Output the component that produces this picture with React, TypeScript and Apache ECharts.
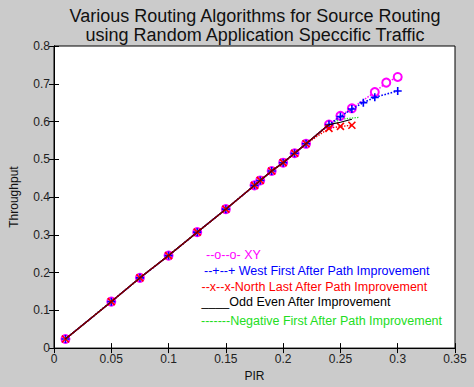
import React, { useEffect, useRef } from "react";
import * as echarts from "echarts";

const sharedX = [0.01, 0.05, 0.075, 0.1, 0.125, 0.15, 0.175, 0.18, 0.19, 0.2, 0.21, 0.22, 0.24];
const sharedY = [0.024, 0.123, 0.186, 0.245, 0.307, 0.368, 0.431, 0.444, 0.469, 0.491, 0.516, 0.541, 0.592];

const xyX = [0.25, 0.26, 0.28, 0.29, 0.3];
const xyY = [0.615, 0.635, 0.678, 0.703, 0.718];

const wfX = [0.25, 0.26, 0.27, 0.28, 0.3];
const wfY = [0.613, 0.633, 0.65, 0.664, 0.681];

const nlX = [0.25, 0.26];
const nlY = [0.587, 0.59];
const nlLastShared = 0.582;

const oeX = [0.25, 0.26];
const oeY = [0.598, 0.606];

const nfX = [0.25, 0.266];
const nfY = [0.606, 0.611];

const xTicks = [0, 0.05, 0.1, 0.15, 0.2, 0.25, 0.3, 0.35];
const yTicks = [0, 0.1, 0.2, 0.3, 0.4, 0.5, 0.6, 0.7, 0.8];

const legendLines = [
  { text: "--o--o- XY", color: "#ff00ff" },
  { text: "--+--+ West First After Path Improvement", color: "#0000ff" },
  { text: "--x--x-North Last After Path Improvement", color: "#ff0000" },
  { text: "____Odd Even After Improvement", color: "#000000" },
  { text: "-------Negative First After Path Improvement", color: "#22dd22" },
];

const PLUS = "path://M5,0 L5,10 M0,5 L10,5";
const CROSS = "path://M0,0 L10,10 M10,0 L0,10";

function pairs(xs: number[], ys: number[]) {
  return xs.map((x, i) => [x, ys[i]]);
}

export default function App() {
  const ref = useRef<HTMLDivElement>(null);
  useEffect(() => {
    if (!ref.current) return;
    const chart = echarts.init(ref.current, null, { renderer: "svg" });
    const font = "Liberation Sans, Arial, sans-serif";
    const shared = pairs(sharedX, sharedY);
    const nlShared = shared.map((p, i) => (i === shared.length - 1 ? [p[0], nlLastShared] : p));
    const legendY = [255, 271, 287, 302, 321];
    const legendX = [206, 204, 201.5, 201.5, 201];
    const axisCommon = {
      type: "value" as const,
      axisLine: { show: true, lineStyle: { color: "#000", width: 1 } },
      axisTick: { show: true, inside: true, length: 5, lineStyle: { color: "#000" } },
      splitLine: { show: false },
    };
    chart.setOption({
      animation: false,
      backgroundColor: "#cbcbcb",
      textStyle: { fontFamily: font },
      title: {
        text: "Various Routing Algorithms for Source Routing\nusing Random Application Speccific Traffic",
        left: 250,
        top: 2,
        textAlign: "center",
        textStyle: { fontSize: 18, fontWeight: "normal", lineHeight: 18.5, color: "#111", fontFamily: font },
      },
      grid: {
        left: 47,
        right: 19,
        top: 46,
        bottom: 36,
        show: true,
        backgroundColor: "#ffffff",
        borderColor: "#000",
        borderWidth: 1,
      },
      xAxis: [
        {
          ...axisCommon,
          position: "bottom",
          min: 0,
          max: 0.35,
          interval: 0.05,
          name: "PIR",
          nameLocation: "middle",
          nameGap: 21,
          nameTextStyle: { fontSize: 12, color: "#111", verticalAlign: "top", fontFamily: font },
          axisLabel: {
            fontSize: 12,
            color: "#222",
            margin: 5,
            fontFamily: font,
            formatter: (v: number) => {
              const t = xTicks.find((k) => Math.abs(k - v) < 1e-9);
              return t === undefined ? "" : String(t);
            },
          },
        },
        {
          ...axisCommon,
          position: "top",
          min: 0,
          max: 0.35,
          interval: 0.05,
          axisLabel: { show: false },
        },
      ],
      yAxis: [
        {
          ...axisCommon,
          position: "left",
          min: 0,
          max: 0.8,
          interval: 0.1,
          name: "Throughput",
          nameLocation: "middle",
          nameGap: 34,
          nameTextStyle: { fontSize: 12, color: "#111", fontFamily: font },
          axisLabel: {
            fontSize: 12,
            color: "#222",
            margin: 4,
            fontFamily: font,
            formatter: (v: number) => {
              const t = yTicks.find((k) => Math.abs(k - v) < 1e-9);
              return t === undefined ? "" : String(t);
            },
          },
        },
        {
          ...axisCommon,
          position: "right",
          min: 0,
          max: 0.8,
          interval: 0.1,
          axisLabel: { show: false },
        },
      ],
      series: [
        {
          name: "XY",
          type: "line",
          data: [...shared, ...pairs(xyX, xyY)],
          symbol: "emptyCircle",
          symbolSize: 8,
          showAllSymbol: true,
          lineStyle: { color: "#ff00ff", width: 1.5, type: "dotted" },
          itemStyle: { color: "#ff00ff", borderColor: "#ff00ff", borderWidth: 1.8 },
          z: 2,
        },
        {
          name: "West First After Path Improvement",
          type: "line",
          data: [...shared, ...pairs(wfX, wfY)],
          symbol: PLUS,
          symbolSize: 8,
          showAllSymbol: true,
          lineStyle: { color: "#0000ff", width: 1.6, type: "dotted" },
          itemStyle: { color: "transparent", borderColor: "#0000ff", borderWidth: 1.6 },
          z: 3,
        },
        {
          name: "North Last After Path Improvement",
          type: "line",
          data: [...nlShared, ...pairs(nlX, nlY)],
          symbol: CROSS,
          symbolSize: 7,
          showAllSymbol: true,
          lineStyle: { color: "#ff0000", width: 1.4, type: "dotted" },
          itemStyle: { color: "transparent", borderColor: "#ff0000", borderWidth: 1.6 },
          z: 4,
        },
        {
          name: "Odd Even After Improvement",
          type: "line",
          data: [...shared, ...pairs(oeX, oeY)],
          symbol: "none",
          lineStyle: { color: "#000000", width: 1.2, type: "solid" },
          z: 5,
        },
        {
          name: "Negative First After Path Improvement",
          type: "line",
          data: [...shared, ...pairs(nfX, nfY)],
          symbol: "none",
          lineStyle: { color: "#22dd22", width: 1.3, type: "dotted" },
          z: 1,
        },
        {
          name: "Odd Even overlay",
          type: "line",
          data: shared,
          symbol: "none",
          lineStyle: { color: "#7a0000", width: 1.3, type: "solid" },
          z: 6,
        },
      ],
      graphic: legendLines.map((l, i) => ({
        type: "text",
        x: legendX[i],
        y: legendY[i],
        z: 100,
        style: {
          text: l.text,
          fill: l.color,
          font: `12.5px ${font}`,
          textVerticalAlign: "middle",
          verticalAlign: "middle",
        },
      })),
    });
    return () => chart.dispose();
  }, []);
  return (
    <div
      ref={ref}
      style={{ position: "fixed", left: 0, top: 0, width: 474, height: 387 }}
    />
  );
}
